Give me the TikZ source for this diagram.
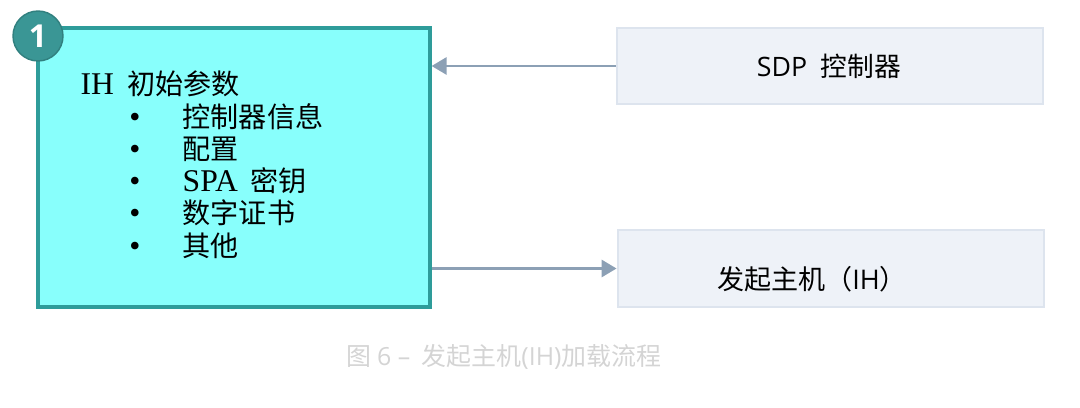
\documentclass[tikz,border=0pt]{standalone}
\usepackage{fontspec}
\setmainfont{Liberation Serif}
\newfontfamily\cjk{Noto Sans CJK SC}
\newfontfamily\latinsans{Open Sans}
\usetikzlibrary{arrows.meta}

\definecolor{tealedge}{HTML}{2E9C9A}
\definecolor{tealfill}{HTML}{88FFFC}
\definecolor{tealdot}{HTML}{3A9695}
\definecolor{boxfill}{HTML}{EEF2F8}
\definecolor{boxedge}{HTML}{DDE4EE}
\definecolor{flowline}{HTML}{8CA0B5}

\tikzset{
    initbox/.style={draw=tealedge, fill=tealfill, line width=0.9pt,
        minimum width=3.92cm, minimum height=2.79cm, inner sep=0pt},
    hostbox/.style={draw=boxedge, fill=boxfill, line width=0.8pt,
        minimum width=4.26cm, minimum height=0.77cm, inner sep=0pt},
    stepdot/.style={circle, fill=tealdot, draw=tealdot!85!black, line width=0.4pt,
        minimum size=0.5cm, inner sep=0pt, text=white,
        font=\latinsans\bfseries\fontsize{9}{10}\selectfont},
    flow/.style={draw=flowline, line width=0.8pt,
        -{Triangle[length=1.5mm,width=1.7mm]}},
    boxtext/.style={font=\fontsize{8}{9.6}\selectfont, anchor=base west, inner sep=0pt},
}
\newcommand{\lat}[1]{{\fontsize{9}{10}\selectfont #1}}

\begin{document}
\begin{tikzpicture}
    \useasboundingbox (0,0) rectangle (10.8,4.07);

    % left box with its parameters
    \node[initbox] (init) at (2.34,2.395) {};
    \node[stepdot] (num) at (0.38,3.71) {1};
    \node[boxtext] (title) at (0.80,3.12) {\lat{IH}\hspace{1.3mm}{\cjk 初始参数}};
    \foreach \txt [count=\i] in {{\cjk 控制器信息}, {\cjk 配置}, {\lat{SPA}\hspace{1.3mm}\cjk 密钥}, {\cjk 数字证书}, {\cjk 其他}} {
        \node[boxtext, anchor=base] (dot\i) at (1.35,3.12-0.322*\i) {\lat{\textbullet}};
        \node[boxtext] (item\i) at (1.82,3.12-0.322*\i) {\txt};
    }

    % right boxes
    \node[hostbox, minimum height=0.76cm] (ctrl) at (8.30,3.41) {};
    \node[font=\latinsans\fontsize{7.6}{9}\selectfont, inner sep=0pt] (ctrltext) at (8.29,3.41) {SDP\ \ {\cjk 控制器}};
    \node[hostbox] (host) at (8.31,1.385) {};
    \node[font=\cjk\fontsize{7.7}{9}\selectfont, inner sep=0pt] (hosttext) at (8.12,1.28) {发起主机（{\latinsans IH}）};

    % connectors
    \draw[flow] (ctrl.west) -- (init.east |- ctrl.west);
    \draw[flow] (init.east |- host.west) -- (host.west);

    % caption
    \node[font=\cjk\fontsize{7.1}{8}\selectfont, text=black!17] (caption) at (5.04,0.50)
        {图 {\latinsans 6 –}\ \ 发起主机{\latinsans (IH)}加载流程};
\end{tikzpicture}
\end{document}
